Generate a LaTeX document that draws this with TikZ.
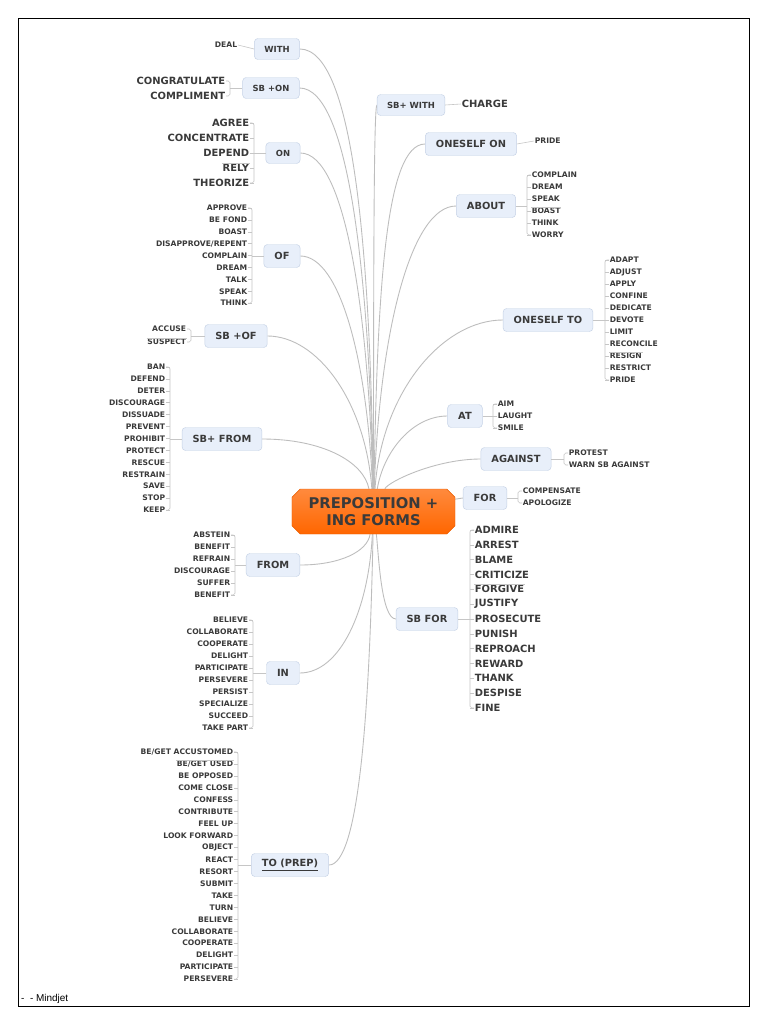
\documentclass[tikz,border=0pt]{standalone}
\usepackage{fontspec}
\setmainfont{DejaVu Sans}
\newfontfamily\footfont{Liberation Sans}
\usepackage{tikz}
\usetikzlibrary{calc, shapes.misc, backgrounds}
\definecolor{MJink}{HTML}{3A3A3A}
\definecolor{MJfill}{HTML}{E8EFFA}
\definecolor{MJedge}{HTML}{C5D2E6}
\definecolor{MJbranch}{HTML}{BDBDBD}
\definecolor{MJtick}{HTML}{C6C6C6}
\definecolor{MJorange}{HTML}{FF6600}
\definecolor{MJorangetop}{HTML}{FF8A3D}
\definecolor{MJorangeline}{HTML}{E85D00}

\begin{document}
\begin{tikzpicture}[x=0.03cm, y=-0.03cm]
    \tikzset{
  core/.style={chamfered rectangle, chamfered rectangle xsep=3.5pt,
    chamfered rectangle ysep=3.5pt, draw=MJorangeline,
    top color=MJorangetop, bottom color=MJorange,
    minimum width=4.89cm, minimum height=1.35cm, inner sep=0,
    align=center, text=MJink, font=\fontsize{12.6}{14.5}\selectfont\bfseries},
  topic/.style={draw=MJedge, fill=MJfill, rounded corners=3pt, text=MJink,
    font=\fontsize{8.4}{10}\selectfont\bfseries,
    minimum height=0.69cm, inner xsep=9pt, inner ysep=0},
  smalltopic/.style={topic, font=\fontsize{7.2}{9}\selectfont\bfseries,
    minimum height=0.63cm, inner xsep=8.5pt},
  leaf/.style={text=MJink, font=\fontsize{6.5}{7}\selectfont\bfseries, inner sep=0.5pt},
  bigleaf/.style={leaf, font=\fontsize{8.5}{9}\selectfont\bfseries},
  branch/.style={draw=MJbranch, line width=0.75pt},
  bracket/.style={draw=MJtick, line width=0.5pt, rounded corners=1.5pt},
}
\useasboundingbox (0,0) rectangle (768,1024);

% ── Page frame and footer ──────────────────────────────────
\draw[line width=0.8pt] (18,18) rectangle (749,1006);
\node[anchor=west, inner sep=0, font=\footfont\fontsize{8.5}{10}\selectfont]
  (foot) at (21,999) {-\ \ - Mindjet};

% ── Central topic ───────────────────────────────────────────
\node[core] (core) at (373.5,511.5) {PREPOSITION +\\ING FORMS};

% ── LEFT SIDE ───────────────────────────────────────────────
% WITH
\node[smalltopic] (with) at (277,49) {WITH};
\node[leaf, anchor=east] (with-1) at (238,45) {DEAL};
\draw[bracket] (with.west) -- (with-1.east);

% SB +ON
\node[smalltopic] (sbon) at (271,88) {SB +ON};
\foreach \w [count=\i] in {CONGRATULATE, COMPLIMENT}
  \node[bigleaf, anchor=east] (sbon-\i) at (226,{66+15*\i}) {\w};
\draw[bracket] (sbon-1.east) -- ++(4,0) coordinate (sbon-bar) |- (sbon-2.east);
\draw[bracket] (sbon.west) -- (sbon.west -| sbon-bar);

% ON
\node[smalltopic] (on) at (283,153) {ON};
\foreach \w [count=\i] in {AGREE, CONCENTRATE, DEPEND, RELY, THEORIZE} {
  \node[bigleaf, anchor=east] (on-\i) at (250,{108+15*\i}) {\w};
  \draw[bracket] (on-\i.east) -- ++(4,0);
}
\draw[bracket] (on-1.east) -- ++(4,0) coordinate (on-bar) |- (on-5.east);
\draw[bracket] (on.west) -- (on.west -| on-bar);
\draw[bracket] (on-4.north west) -- (on-4.north east);

% OF
\node[topic] (of) at (282,256) {OF};
\foreach \w [count=\i] in {APPROVE, BE FOND, BOAST, DISAPPROVE/REPENT, COMPLAIN,
    DREAM, TALK, SPEAK, THINK} {
  \node[leaf, anchor=east] (of-\i) at (248,{196.1+11.9*\i}) {\w};
  \draw[bracket] (of-\i.east) -- ++(4,0);
}
\draw[bracket] (of-1.east) -- ++(4,0) coordinate (of-bar) |- (of-9.east);
\draw[bracket] (of.west) -- (of.west -| of-bar);

% SB +OF
\node[topic] (sbof) at (236,336) {SB +OF};
\foreach \w [count=\i] in {ACCUSE, SUSPECT}
  \node[leaf, anchor=east] (sbof-\i) at (187,{316+13*\i}) {\w};
\draw[bracket] (sbof-1.east) -- ++(4,0) coordinate (sbof-bar) |- (sbof-2.east);
\draw[bracket] (sbof.west) -- (sbof.west -| sbof-bar);
\draw[bracket] (sbof-2.north west) -- (sbof-2.north east);

% SB+ FROM
\node[topic] (sbfrom) at (222,439) {SB+ FROM};
\foreach \w [count=\i] in {BAN, DEFEND, DETER, DISCOURAGE, DISSUADE, PREVENT,
    PROHIBIT, PROTECT, RESCUE, RESTRAIN, SAVE, STOP, KEEP} {
  \node[leaf, anchor=east] (sbfrom-\i) at (166,{355.08+11.92*\i}) {\w};
  \draw[bracket] (sbfrom-\i.east) -- ++(4,0);
}
\draw[bracket] (sbfrom-1.east) -- ++(4,0) coordinate (sbfrom-bar) |- (sbfrom-13.east);
\draw[bracket] (sbfrom.west) -- (sbfrom.west -| sbfrom-bar);

% FROM
\node[topic] (from) at (273,565) {FROM};
\foreach \w [count=\i] in {ABSTEIN, BENEFIT, REFRAIN, DISCOURAGE, SUFFER, BENEFIT} {
  \node[leaf, anchor=east] (from-\i) at (231,{523+12*\i}) {\w};
  \draw[bracket] (from-\i.east) -- ++(4,0);
}
\draw[bracket] (from-1.east) -- ++(4,0) coordinate (from-bar) |- (from-6.east);
\draw[bracket] (from.west) -- (from.west -| from-bar);

% IN
\node[topic] (pin) at (283,673) {IN};
\foreach \w [count=\i] in {BELIEVE, COLLABORATE, COOPERATE, DELIGHT, PARTICIPATE,
    PERSEVERE, PERSIST, SPECIALIZE, SUCCEED, TAKE PART} {
  \node[leaf, anchor=east] (pin-\i) at (249,{608+12*\i}) {\w};
  \draw[bracket] (pin-\i.east) -- ++(4,0);
}
\draw[bracket] (pin-1.east) -- ++(4,0) coordinate (pin-bar) |- (pin-10.east);
\draw[bracket] (pin.west) -- (pin.west -| pin-bar);

% TO (PREP)
\node[topic] (toprep) at (290,865) {\underline{TO (PREP)}};
\foreach \w [count=\i] in {BE/GET ACCUSTOMED, BE/GET USED, BE OPPOSED, COME CLOSE,
    CONFESS, CONTRIBUTE, FEEL UP, LOOK FORWARD, OBJECT, REACT, RESORT, SUBMIT,
    TAKE, TURN, BELIEVE, COLLABORATE, COOPERATE, DELIGHT, PARTICIPATE, PERSEVERE} {
  \node[leaf, anchor=east] (toprep-\i) at (234,{740.05+11.95*\i}) {\w};
  \draw[bracket] (toprep-\i.east) -- ++(4,0);
}
\draw[bracket] (toprep-1.east) -- ++(4,0) coordinate (toprep-bar) |- (toprep-20.east);
\draw[bracket] (toprep.west) -- (toprep.west -| toprep-bar);
\draw[bracket] (toprep-2.north west) -- (toprep-2.north east);

% ── RIGHT SIDE ──────────────────────────────────────────────
% SB+ WITH
\node[smalltopic] (sbwith) at (411,105) {SB+ WITH};
\node[bigleaf, anchor=west] (sbwith-1) at (461,104) {CHARGE};
\draw[bracket] (sbwith.east) -- (sbwith-1.west);

% ONESELF ON
\node[topic] (selfon) at (471,144) {ONESELF ON};
\node[leaf, anchor=west] (selfon-1) at (534,141) {PRIDE};
\draw[bracket] (selfon.east) -- (selfon-1.west);

% ABOUT
\node[topic] (about) at (486,206) {ABOUT};
\foreach \w [count=\i] in {COMPLAIN, DREAM, SPEAK, BOAST, THINK, WORRY} {
  \node[leaf, anchor=west] (about-\i) at (531,{163+12*\i}) {\w};
  \draw[bracket] (about-\i.west) -- ++(-4,0);
}
\draw[bracket] (about-1.west) -- ++(-4,0) coordinate (about-bar) |- (about-6.west);
\draw[bracket] (about.east) -- (about.east -| about-bar);
\draw[bracket] (about-4.north west) -- (about-4.north east);

% ONESELF TO
\node[topic] (selfto) at (548,320) {ONESELF TO};
\foreach \w [count=\i] in {ADAPT, ADJUST, APPLY, CONFINE, DEDICATE, DEVOTE, LIMIT,
    RECONCILE, RESIGN, RESTRICT, PRIDE} {
  \node[leaf, anchor=west] (selfto-\i) at (609,{248+12*\i}) {\w};
  \draw[bracket] (selfto-\i.west) -- ++(-4,0);
}
\draw[bracket] (selfto-1.west) -- ++(-4,0) coordinate (selfto-bar) |- (selfto-11.west);
\draw[bracket] (selfto.east) -- (selfto.east -| selfto-bar);
\draw[bracket] (selfto-9.north west) -- (selfto-9.north east);

% AT
\node[topic] (pat) at (465,416) {AT};
\foreach \w [count=\i] in {AIM, LAUGHT, SMILE} {
  \node[leaf, anchor=west] (pat-\i) at (497,{392+12*\i}) {\w};
  \draw[bracket] (pat-\i.west) -- ++(-4,0);
}
\draw[bracket] (pat-1.west) -- ++(-4,0) coordinate (pat-bar) |- (pat-3.west);
\draw[bracket] (pat.east) -- (pat.east -| pat-bar);

% AGAINST
\node[topic] (against) at (516,459) {AGAINST};
\foreach \w [count=\i] in {PROTEST, WARN SB AGAINST}
  \node[leaf, anchor=west] (against-\i) at (568,{441+12*\i}) {\w};
\draw[bracket] (against-1.west) -- ++(-4,0) coordinate (against-bar) |- (against-2.west);
\draw[bracket] (against.east) -- (against.east -| against-bar);

% FOR
\node[topic] (pfor) at (485,498) {FOR};
\foreach \w [count=\i] in {COMPENSATE, APOLOGIZE}
  \node[leaf, anchor=west] (pfor-\i) at (522,{479+12*\i}) {\w};
\draw[bracket] (pfor-1.west) -- ++(-4,0) coordinate (pfor-bar) |- (pfor-2.west);
\draw[bracket] (pfor.east) -- (pfor.east -| pfor-bar);

% SB FOR
\node[topic] (sbfor) at (427,619) {SB FOR};
\foreach \w [count=\i] in {ADMIRE, ARREST, BLAME, CRITICIZE, FORGIVE, JUSTIFY,
    PROSECUTE, PUNISH, REPROACH, REWARD, THANK, DESPISE, FINE} {
  \node[bigleaf, anchor=west] (sbfor-\i) at (474,{515.17+14.83*\i}) {\w};
  \draw[bracket] (sbfor-\i.west) -- ++(-4,0);
}
\draw[bracket] (sbfor-1.west) -- ++(-4,0) coordinate (sbfor-bar) |- (sbfor-13.west);
\draw[bracket] (sbfor.east) -- (sbfor.east -| sbfor-bar);
\draw[bracket] (sbfor-5.north west) -- (sbfor-5.north east);

% ── Branches from the central topic (behind it) ────────────
\begin{pgfonlayer}{background}
  \fill[white] (0,0) rectangle (768,1024);
  % left, upper
  \draw[branch] (core) .. controls +(-3,-250) and +(55,0) .. (with.east);
  \draw[branch] (core) .. controls +(-4,-230) and +(50,0) .. (sbon.east);
  \draw[branch] (core) .. controls +(-5,-200) and +(45,0) .. (on.east);
  \draw[branch] (core) .. controls +(-6,-150) and +(40,0) .. (of.east);
  \draw[branch] (core) .. controls +(-8,-110) and +(50,0) .. (sbof.east);
  \draw[branch] (core) .. controls +(-10,-50) and +(60,0) .. (sbfrom.east);
  % left, lower
  \draw[branch] (core) .. controls +(-6,40) and +(40,0) .. (from.east);
  \draw[branch] (core) .. controls +(-5,100) and +(40,0) .. (pin.east);
  \draw[branch] (core) .. controls +(-4,200) and +(30,0) .. (toprep.east);
  % right
  \draw[branch] (core) .. controls +(0,-250) and +(-3,0) .. (sbwith.west);
  \draw[branch] (core) .. controls +(4,-220) and +(-40,0) .. (selfon.west);
  \draw[branch] (core) .. controls +(6,-180) and +(-45,0) .. (about.west);
  \draw[branch] (core) .. controls +(8,-120) and +(-60,0) .. (selfto.west);
  \draw[branch] (core) .. controls +(10,-60) and +(-35,0) .. (pat.west);
  \draw[branch] (core) .. controls +(15,-30) and +(-45,0) .. (against.west);
  \draw[branch] (core) -- (pfor.west);
  \draw[branch] (core) .. controls +(5,40) and +(-15,0) .. (sbfor.west);
\end{pgfonlayer}

  \end{tikzpicture}
\end{document}
